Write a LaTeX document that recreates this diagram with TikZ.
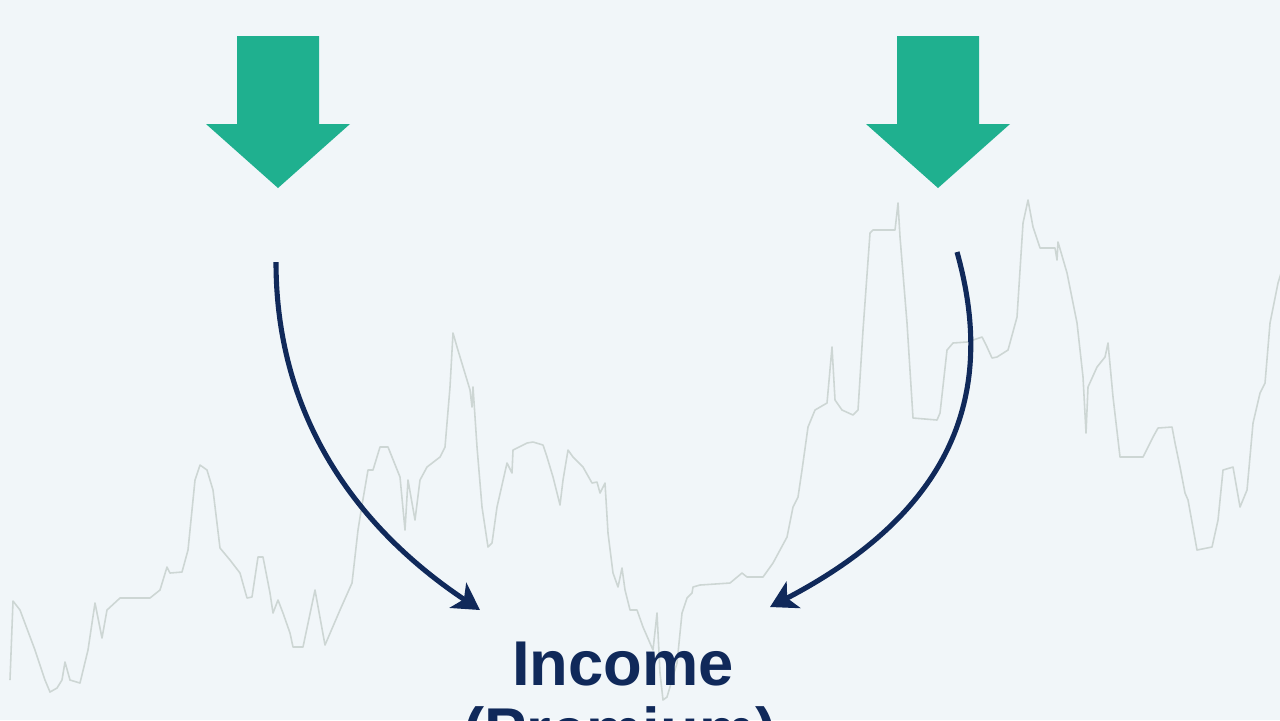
\documentclass[tikz,border=0pt]{standalone}
\usepackage{fontspec}
\setmainfont{Liberation Sans}
\usepackage{tikz}
\usetikzlibrary{arrows.meta}

\definecolor{bgpaper}{HTML}{F1F6F9}
\definecolor{tealgreen}{HTML}{1FB08F}
\definecolor{navy}{HTML}{10295A}
\definecolor{chartgray}{HTML}{CDD6D4}

\begin{document}
\begin{tikzpicture}[x=0.01cm,y=-0.01cm,
    chart/.style={draw=chartgray,line width=0.45pt,line join=round},
    downarrow/.style={fill=tealgreen},
    curved/.style={draw=navy,line width=1.45pt,-{Stealth[length=7.5pt,width=8.5pt,inset=2pt]}},
    caption/.style={text=navy,font=\fontsize{18}{22}\selectfont\bfseries,inner sep=0pt}]
  \clip (0,0) rectangle (1280,720);
  \fill[bgpaper] (0,0) rectangle (1280,720);

  % price line in the background
  \draw[chart] (10,680) -- (13,601) -- (20,610) -- (35,650) -- (45,680) -- (50,692) -- (57,688)
    -- (62,680) -- (65,662) -- (70,680) -- (80,683) -- (88,650) -- (95,603) -- (102,638) -- (107,610)
    -- (120,598) -- (150,598) -- (160,590) -- (167,567) -- (170,573) -- (182,572) -- (188,550)
    -- (195,480) -- (200,465) -- (207,470) -- (213,490) -- (220,548) -- (230,560) -- (240,573)
    -- (247,598) -- (252,597) -- (258,557) -- (263,557) -- (270,593) -- (273,613) -- (278,600)
    -- (283,613) -- (290,633) -- (293,647) -- (303,647) -- (315,590) -- (325,645) -- (340,610)
    -- (352,583) -- (358,530) -- (362,505) -- (368,470) -- (373,470) -- (380,447) -- (388,447)
    -- (400,477) -- (405,530) -- (408,480) -- (415,520) -- (420,480) -- (427,467) -- (440,457)
    -- (445,447) -- (450,387) -- (453,333) -- (457,347) -- (467,380) -- (470,390) -- (472,407)
    -- (473,387) -- (477,447) -- (482,507) -- (488,547) -- (492,543) -- (497,507) -- (507,463)
    -- (512,473) -- (513,450) -- (527,443) -- (533,442) -- (543,445) -- (547,457) -- (553,477)
    -- (560,505) -- (563,480) -- (568,450) -- (573,457) -- (583,467) -- (592,483) -- (597,482)
    -- (600,493) -- (605,483) -- (608,533) -- (613,573) -- (618,587) -- (622,568) -- (625,590)
    -- (630,610) -- (637,610) -- (643,627) -- (653,650) -- (657,613) -- (660,673) -- (663,700)
    -- (667,697) -- (677,663) -- (682,613) -- (687,598) -- (692,593) -- (693,587) -- (700,585)
    -- (730,583) -- (742,573) -- (747,577) -- (763,577) -- (773,563) -- (787,537) -- (793,507)
    -- (798,497) -- (802,470) -- (808,427) -- (815,410) -- (827,403) -- (832,347) -- (835,400)
    -- (842,410) -- (853,415) -- (858,410) -- (863,330) -- (870,233) -- (873,230) -- (895,230)
    -- (898,203) -- (900,237) -- (907,323) -- (913,418) -- (937,420) -- (940,413) -- (947,350)
    -- (953,343) -- (967,342) -- (982,337) -- (987,347) -- (992,358) -- (997,357) -- (1008,350)
    -- (1017,317) -- (1023,223) -- (1028,200) -- (1033,227) -- (1040,248) -- (1055,248) -- (1057,260)
    -- (1058,242) -- (1067,273) -- (1077,323) -- (1083,377) -- (1086,433) -- (1088,387) -- (1097,367)
    -- (1105,357) -- (1108,343) -- (1113,397) -- (1120,457) -- (1143,457) -- (1153,437) -- (1158,428)
    -- (1172,427) -- (1175,443) -- (1180,467) -- (1185,493) -- (1188,500) -- (1197,550) -- (1212,547)
    -- (1218,520) -- (1223,470) -- (1233,467) -- (1240,507) -- (1247,490) -- (1253,423) -- (1260,393)
    -- (1265,383) -- (1270,323) -- (1278,283) -- (1282,270);

  \foreach \cx in {278,938}
    \fill[downarrow] (\cx-41,36) -- (\cx+41,36) -- (\cx+41,124) -- (\cx+72,124)
      -- (\cx,188) -- (\cx-72,124) -- (\cx-41,124) -- cycle;

  \node[caption,anchor=base] (income) at (623,685) {Income};
  \node[caption,anchor=base] (premium) at (620,752) {(Premium)};

  \coordinate (fromL) at (276,262);
  \coordinate (fromR) at (957,252);
  \coordinate (toL) at (480,610);
  \coordinate (toR) at (770,607);
  \draw[curved] (fromL) .. controls (276,420) and (360,530) .. (toL);
  \draw[curved] (fromR) .. controls (990,370) and (975,500) .. (toR);
\end{tikzpicture}
\end{document}
